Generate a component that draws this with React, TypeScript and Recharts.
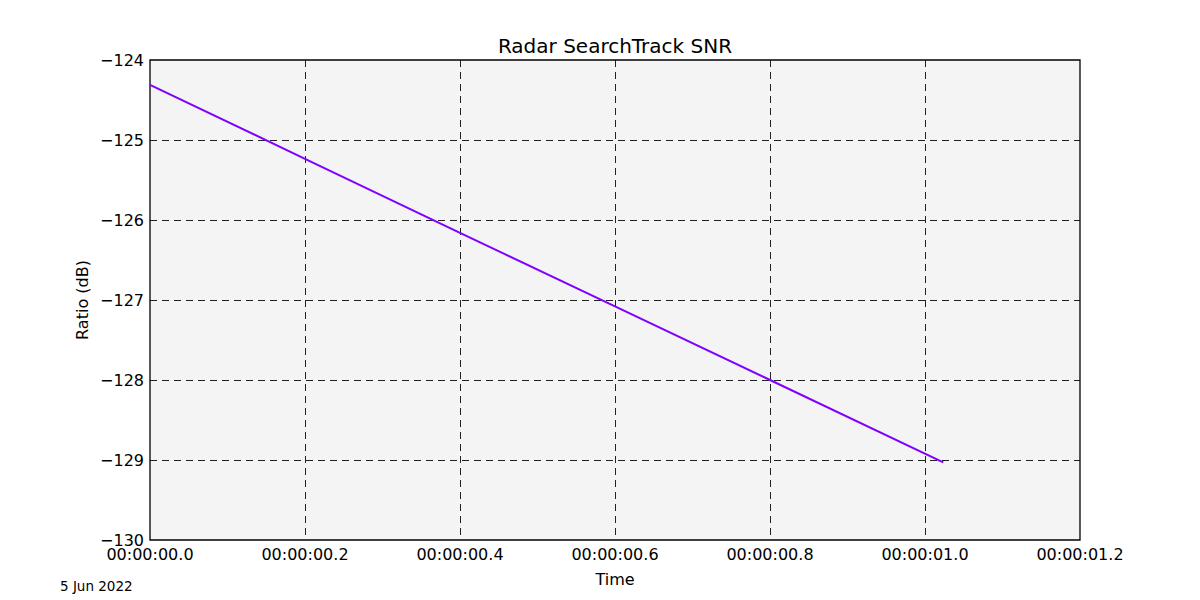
import React from 'react';
import {
  LineChart,
  Line,
  XAxis,
  YAxis,
  CartesianGrid,
  ReferenceArea,
} from 'recharts';

// time in seconds, SNR in dB
const times = [0, 0.2, 0.4, 0.6, 0.8, 1.0236];
const snr = [-124.31, -125.235, -126.16, -127.08, -128.0, -129.03];
const xTicks = [0, 0.2, 0.4, 0.6, 0.8, 1.0, 1.2];
const yTicks = [-130, -129, -128, -127, -126, -125, -124];
const xGrid = [0.2, 0.4, 0.6, 0.8, 1.0];
const yGrid = [-129, -128, -127, -126, -125];

const data = times.map((t, i) => ({ t, snr: snr[i] }));

const font = "'DejaVu Sans', sans-serif";

const fmtTime = (v: number) => {
  const s = v.toFixed(1).padStart(4, '0');
  return `00:00:${s}`;
};

const fmtDb = (v: number) => String(v).replace('-', '\u2212');

// crisp dashed grid line, like matplotlib's
const gridLine = (p: any) => (
  <line
    key={p.key}
    x1={p.x1}
    y1={p.y1}
    x2={p.x2}
    y2={p.y2}
    stroke="#222"
    strokeWidth={1}
    strokeDasharray="7 5"
    shapeRendering="crispEdges"
  />
);

export default function App() {
  return (
    <div style={{ position: 'absolute', left: 0, top: 0, width: 1200, height: 600, background: '#fff', fontFamily: font }}>
      <div style={{ position: 'absolute', left: 0, top: 34, width: 1230, textAlign: 'center', fontSize: 20, color: '#000' }}>
        Radar SearchTrack SNR
      </div>
      <div style={{ position: 'absolute', left: 60, top: 578, fontSize: 13.5, color: '#000' }}>5 Jun 2022</div>
      <LineChart
        width={1200}
        height={600}
        data={data}
        margin={{ top: 60, right: 120, bottom: 0, left: 0 }}
        style={{ fontFamily: font }}
      >
        <CartesianGrid
          fill="#f4f4f4"
          horizontal={gridLine}
          vertical={gridLine}
          horizontalValues={yGrid}
          verticalValues={xGrid}
        />
        <XAxis
          dataKey="t"
          type="number"
          domain={[0, 1.2]}
          ticks={xTicks}
          tickFormatter={fmtTime}
          height={60}
          tickLine={false}
          axisLine={false}
          tickMargin={3}
          tick={{ fill: '#000', fontSize: 16 }}
          interval={0}
          label={{ value: 'Time', position: 'insideBottom', offset: 15, fill: '#000', fontSize: 16 }}
        />
        <YAxis
          type="number"
          domain={[-130, -124]}
          ticks={yTicks}
          tickFormatter={fmtDb}
          width={150}
          tickLine={false}
          axisLine={false}
          tickMargin={0}
          tick={{ fill: '#000', fontSize: 16 }}
          interval={0}
          label={{ value: 'Ratio (dB)', angle: -90, position: 'center', dx: 7, fill: '#000', fontSize: 16 }}
        />
        <ReferenceArea x1={0} x2={1.2} y1={-130} y2={-124} fill="none" stroke="#000" strokeWidth={1.3} ifOverflow="visible" />
        <Line
          dataKey="snr"
          type="linear"
          stroke="#8000ff"
          strokeWidth={2}
          dot={false}
          isAnimationActive={false}
        />
      </LineChart>
    </div>
  );
}
